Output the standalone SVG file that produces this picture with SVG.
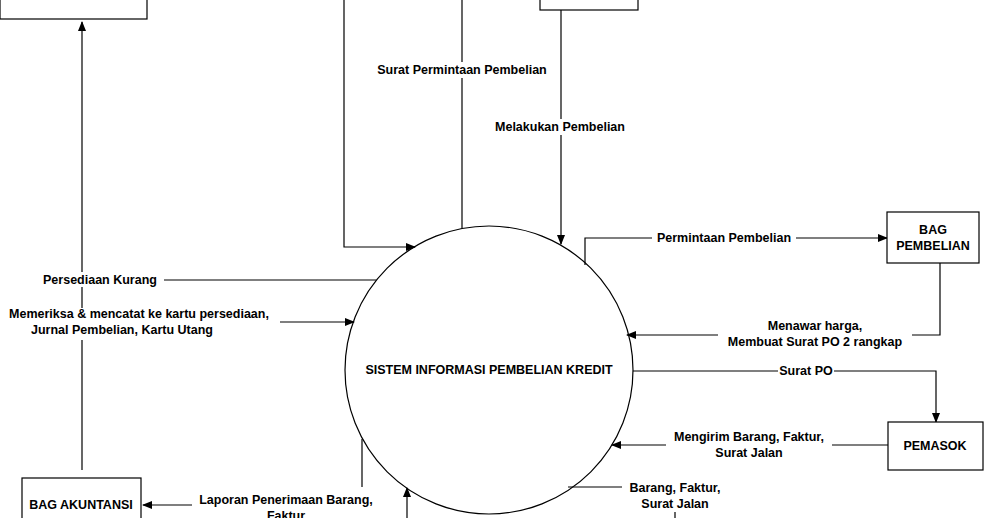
<svg xmlns="http://www.w3.org/2000/svg" width="985" height="518" viewBox="0 0 985 518">
<style>
.b{fill:#fff;stroke:#000;stroke-width:1.2}
.l{fill:none;stroke:#000;stroke-width:1.2}
text{font-family:"Liberation Sans",Arial,sans-serif;font-weight:bold;font-size:12.5px;fill:#000;text-anchor:middle}
.bg{fill:#fff;stroke:none}
</style>
<defs><marker id="a" markerWidth="10" markerHeight="8" refX="9" refY="4" orient="auto" markerUnits="userSpaceOnUse"><path d="M0,0L10,4L0,8z" fill="#000"/></marker></defs>
<rect width="985" height="518" fill="#fff"/>
<g id="connectors">
<path class="l" d="M82,470V22" marker-end="url(#a)"/>
<path class="l" d="M344,0V247H415" marker-end="url(#a)"/>
<path class="l" d="M462,0V228"/>
<path class="l" d="M561,10V244" marker-end="url(#a)"/>
<path class="l" d="M585,265V238H887" marker-end="url(#a)"/>
<path class="l" d="M940,263V335H627" marker-end="url(#a)"/>
<path class="l" d="M633,371H936V422" marker-end="url(#a)"/>
<path class="l" d="M888,445H612" marker-end="url(#a)"/>
<path class="l" d="M568,487H675V518"/>
<path class="l" d="M362,439V487"/>
<path class="l" d="M192,505H143" marker-end="url(#a)"/>
<path class="l" d="M407,518V488" marker-end="url(#a)"/>
<path class="l" d="M376,280H82"/>
<path class="l" d="M280,322H354" marker-end="url(#a)"/>
</g>
<g id="labels">
<rect class="bg" x="368" y="62" width="188" height="16"/><text x="462" y="74">Surat Permintaan Pembelian</text>
<rect class="bg" x="490" y="119" width="140" height="16"/><text x="560" y="131">Melakukan Pembelian</text>
<rect class="bg" x="652" y="231" width="144" height="15"/><text x="724" y="242">Permintaan Pembelian</text>
<rect class="bg" x="718" y="318" width="194" height="32"/><text x="815" y="330">Menawar harga,</text><text x="815" y="346">Membuat Surat PO 2 rangkap</text>
<rect class="bg" x="778" y="364" width="56" height="15"/><text x="806" y="375">Surat PO</text>
<rect class="bg" x="666" y="429" width="166" height="32"/><text x="749" y="441">Mengirim Barang, Faktur,</text><text x="749" y="457">Surat Jalan</text>
<rect class="bg" x="622" y="480" width="106" height="32"/><text x="675" y="492">Barang, Faktur,</text><text x="675" y="508">Surat Jalan</text>
<rect class="bg" x="192" y="492" width="190" height="26"/><text x="286" y="504">Laporan Penerimaan Barang,</text><text x="286" y="520">Faktur</text>
<rect class="bg" x="36" y="272" width="128" height="15"/><text x="100" y="284">Persediaan Kurang</text>
<rect class="bg" x="0" y="308" width="280" height="32"/>
<text x="139" y="318">Memeriksa &amp; mencatat ke kartu persediaan,</text><text x="122" y="334">Jurnal Pembelian, Kartu Utang</text>
</g>
<g id="process"><circle class="b" cx="489" cy="370" r="144" fill-opacity="0"/><text x="489" y="374">SISTEM INFORMASI PEMBELIAN KREDIT</text></g>
<g id="topleft"><rect class="b" x="0" y="-10" width="147" height="29"/></g>
<g id="topright"><rect class="b" x="540" y="-10" width="98" height="20"/></g>
<g id="pembelian"><rect class="b" x="887" y="212" width="92" height="51"/><text x="933" y="234">BAG</text><text x="933" y="250">PEMBELIAN</text></g>
<g id="pemasok"><rect class="b" x="888" y="422" width="95" height="48"/><text x="935" y="450">PEMASOK</text></g>
<g id="akuntansi"><rect class="b" x="22" y="478" width="119" height="50"/><text x="81" y="509">BAG AKUNTANSI</text></g>
</svg>
